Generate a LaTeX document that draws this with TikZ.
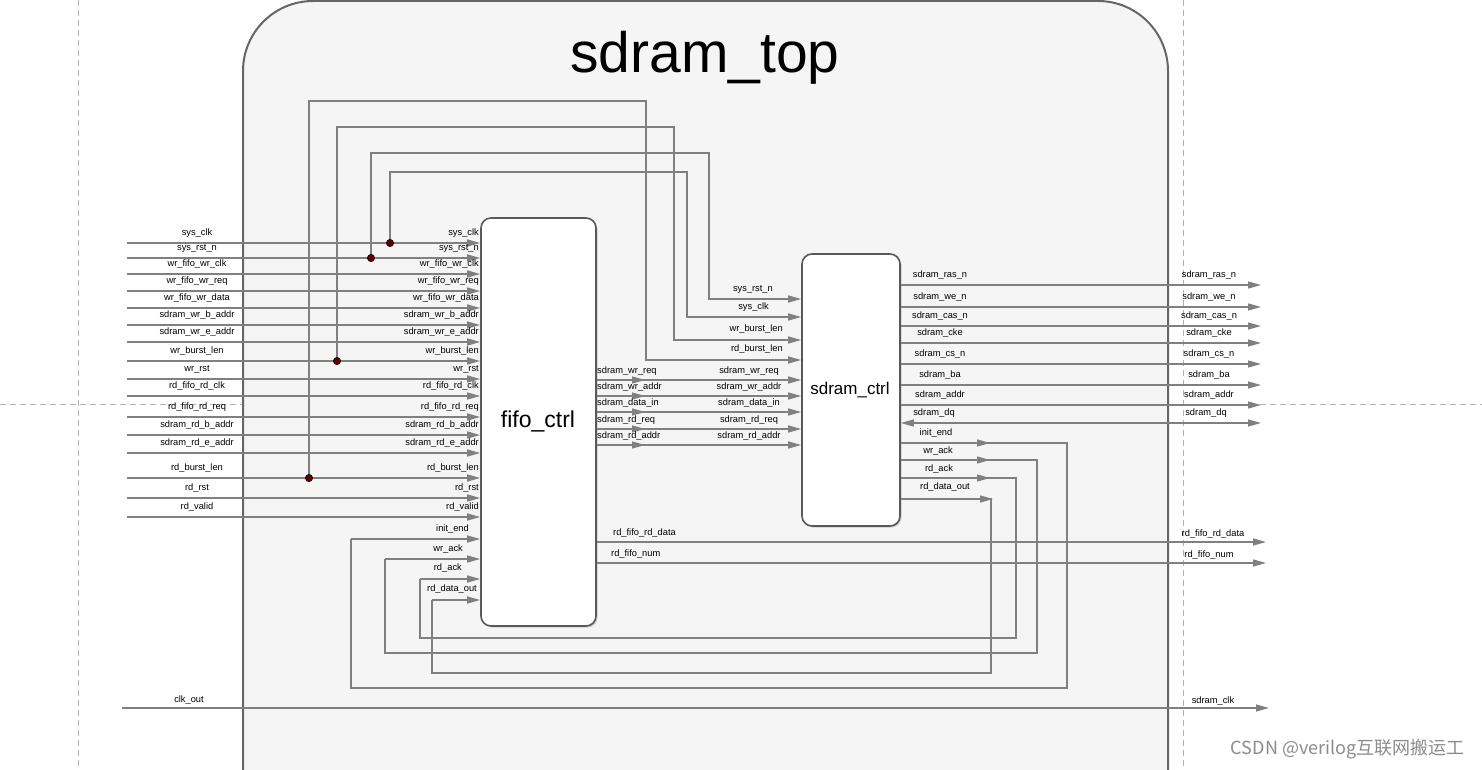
\documentclass[tikz,border=0pt]{standalone}
\usepackage{fontspec}
\setmainfont{Liberation Sans}
\newfontfamily\cjk{Noto Sans CJK SC}
\usetikzlibrary{arrows.meta,shadows}
\definecolor{ln}{HTML}{808080}
\tikzset{
 sig/.style={draw=ln,line width=1.4pt,-{Triangle[length=13pt,width=7pt]}},
 wire/.style={draw=ln,line width=1.4pt},
 lb/.style={font=\fontsize{9.3}{10}\selectfont,inner sep=1pt,anchor=south},
 blk/.style={draw=black!65,line width=1.6pt,fill=white,rounded corners=10pt,drop shadow={opacity=0.35,shadow xshift=1.5pt,shadow yshift=-1.5pt}},
 dot/.style={circle,fill=black!40!red!60!black,draw=black,inner sep=0pt,minimum size=7.5pt},
 guide/.style={draw=black!30,line width=0.6pt,dash pattern=on 6pt off 4pt}
}
\begin{document}
\begin{tikzpicture}[x=1pt,y=-1pt]
\useasboundingbox (0,0) rectangle (1482,770);
\fill[white] (0,0) rectangle (1482,770);
\draw[guide] (78,0) -- (78,770);
\draw[guide] (1183,0) -- (1183,770);
\draw[guide] (0,404) -- (1482,404);
\begin{scope}
\clip (0,0) rectangle (1482,770);
\draw[draw=black!60,line width=2pt,fill=black!4,rounded corners=70pt] (243,1) rectangle (1168,840);
\end{scope}
\node[font=\fontsize{57}{62}\selectfont] (title) at (705,58) {sdram\_top};
\node[blk,minimum width=115pt,minimum height=408pt] (fifo) at (538.5,422) {};
\node[font=\fontsize{23}{26}\selectfont] at (538,421) {fifo\_ctrl};
\node[blk,minimum width=98pt,minimum height=272pt] (ctrl) at (851,390) {};
\node[font=\fontsize{17}{20}\selectfont] at (850,390) {sdram\_ctrl};
% left inputs
\foreach \y/\t in {243/sys\_clk,258/sys\_rst\_n,274/wr\_fifo\_wr\_clk,291/wr\_fifo\_wr\_req,308/wr\_fifo\_wr\_data,325/sdram\_wr\_b\_addr,342/sdram\_wr\_e\_addr,361/wr\_burst\_len,379/wr\_rst,396/rd\_fifo\_rd\_clk,417/rd\_fifo\_rd\_req,435/sdram\_rd\_b\_addr,453/sdram\_rd\_e\_addr,478/rd\_burst\_len,498/rd\_rst,517/rd\_valid}{
 \draw[sig] (127,\y) -- (fifo.west |- 0,\y);
 \node[lb] at (197,\y-4) {\t};
 \node[lb,anchor=south east] at (480,\y-4) {\t};
}
% taps to sdram_ctrl
\draw[sig] (309,478) -- (309,101) -- (646,101) -- (646,360) -- (ctrl.west |- 0,360);
\draw[sig] (337,361) -- (337,127) -- (674,127) -- (674,340) -- (ctrl.west |- 0,340);
\draw[sig] (371,258) -- (371,153) -- (709,153) -- (709,299) -- (ctrl.west |- 0,299);
\draw[sig] (390,243) -- (390,172) -- (687,172) -- (687,317) -- (ctrl.west |- 0,317);
\node[dot] at (309,478) {};\node[dot] at (337,361) {};\node[dot] at (371,258) {};\node[dot] at (390,243) {};
\node[lb,anchor=south east] at (774,295) {sys\_rst\_n};
\node[lb,anchor=south east] at (770,313) {sys\_clk};
\node[lb,anchor=south east] at (784,335) {wr\_burst\_len};
\node[lb,anchor=south east] at (784,355) {rd\_burst\_len};
% fifo -> ctrl
\foreach \y/\t in {380/sdram\_wr\_req,396/sdram\_wr\_addr,412/sdram\_data\_in,429/sdram\_rd\_req,445/sdram\_rd\_addr}{
 \draw[sig] (fifo.east |- 0,\y) -- (645,\y);
 \draw[sig] (640,\y) -- (ctrl.west |- 0,\y);
 \node[lb,anchor=south west] at (596,\y-3) {\t};
 \node[lb] at (749,\y-3) {\t};
}
% ctrl outputs
\foreach \y/\t in {285/sdram\_ras\_n,307/sdram\_we\_n,326/sdram\_cas\_n,343/sdram\_cke,364/sdram\_cs\_n,385/sdram\_ba,405/sdram\_addr}{
 \draw[sig] (ctrl.east |- 0,\y) -- (1261,\y);
 \node[lb] at (940,\y-4) {\t};
 \node[lb] at (1209,\y-4) {\t};
}
\draw[draw=ln,line width=1.4pt,{Triangle[length=13pt,width=7pt]}-{Triangle[length=13pt,width=7pt]}] (ctrl.east |- 0,423) -- (1261,423);
\node[lb] at (934,419) {sdram\_dq};
\node[lb] at (1206,419) {sdram\_dq};
% feedback loops
\draw[wire] (ctrl.east |- 0,443) -- (1067,443) -- (1067,688) -- (351,688) -- (351,539);
\draw[sig] (351,539) -- (fifo.west |- 0,539);
\draw[sig] (ctrl.east |- 0,443) -- (990,443);
\draw[wire] (ctrl.east |- 0,460) -- (1037,460) -- (1037,653) -- (385,653) -- (385,559);
\draw[sig] (385,559) -- (fifo.west |- 0,559);
\draw[sig] (ctrl.east |- 0,460) -- (990,460);
\draw[wire] (ctrl.east |- 0,478) -- (1016,478) -- (1016,638) -- (420,638) -- (420,579);
\draw[sig] (420,579) -- (fifo.west |- 0,579);
\draw[sig] (ctrl.east |- 0,478) -- (990,478);
\draw[wire] (990,499) -- (991,499) -- (991,673) -- (432,673) -- (432,600);
\draw[sig] (432,600) -- (fifo.west |- 0,600);
\draw[sig] (ctrl.east |- 0,499) -- (993,499);
\node[lb] at (936,439) {init\_end};
\node[lb] at (938,457) {wr\_ack};
\node[lb] at (939,475) {rd\_ack};
\node[lb] at (945,493) {rd\_data\_out};
\node[lb,anchor=south east] at (470,535) {init\_end};
\node[lb,anchor=south east] at (464,555) {wr\_ack};
\node[lb,anchor=south east] at (463,574) {rd\_ack};
\node[lb,anchor=south east] at (478,595) {rd\_data\_out};
% fifo outputs
\draw[sig] (fifo.east |- 0,542) -- (1266,542);
\node[lb,anchor=south west] at (612,539) {rd\_fifo\_rd\_data};
\node[lb] at (1213,540) {rd\_fifo\_rd\_data};
\draw[sig] (fifo.east |- 0,563) -- (1266,563);
\node[lb,anchor=south west] at (610,560) {rd\_fifo\_num};
\node[lb] at (1209,561) {rd\_fifo\_num};
% clk
\draw[sig] (122,708) -- (1269,708);
\node[lb] at (189,706) {clk\_out};
\node[lb] at (1213,707) {sdram\_clk};
\node[font=\fontsize{18}{20}\selectfont\cjk,text=black!45,anchor=east] at (1468,749) {CSDN @verilog互联网搬运工};
\end{tikzpicture}
\end{document}
